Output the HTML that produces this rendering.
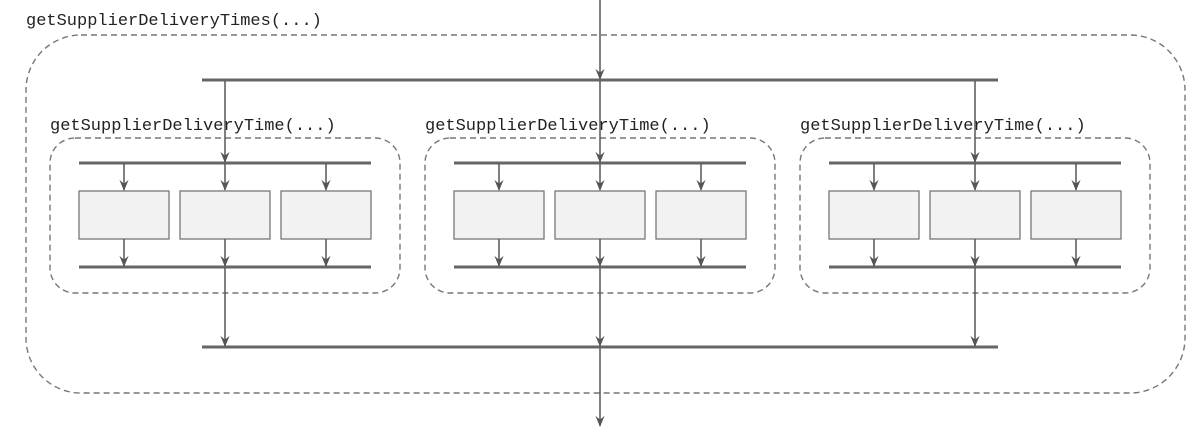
<!DOCTYPE html>
<html><head><style>html,body{margin:0;padding:0;background:#fff}</style></head><body>
<svg width="1200" height="429" viewBox="0 0 1200 429" xmlns="http://www.w3.org/2000/svg">
<defs>
<marker id="a" viewBox="0 0 12 12" refX="11" refY="6" markerWidth="13" markerHeight="11" markerUnits="userSpaceOnUse" orient="auto">
<path d="M0,1 L12,6 L0,11 L4,6 Z" fill="#555"/>
</marker>
<g id="grp">
<rect x="50" y="138" width="350" height="155" rx="25" fill="none" stroke="#777" stroke-width="1.4" stroke-dasharray="6,4"/>
<text x="50" y="130" font-family="Liberation Mono, monospace" font-size="17" fill="#222">getSupplierDeliveryTime(...)</text>
<line x1="79" y1="163" x2="371" y2="163" stroke="#666" stroke-width="3"/>
<line x1="79" y1="267" x2="371" y2="267" stroke="#666" stroke-width="3"/>
<rect x="79" y="191" width="90" height="48" fill="#f2f2f2" stroke="#777" stroke-width="1.3"/>
<rect x="180" y="191" width="90" height="48" fill="#f2f2f2" stroke="#777" stroke-width="1.3"/>
<rect x="281" y="191" width="90" height="48" fill="#f2f2f2" stroke="#777" stroke-width="1.3"/>
<g stroke="#555" stroke-width="1.5" marker-end="url(#a)">
<line x1="124" y1="164" x2="124" y2="190"/>
<line x1="225" y1="164" x2="225" y2="190"/>
<line x1="326" y1="164" x2="326" y2="190"/>
<line x1="124" y1="239" x2="124" y2="266"/>
<line x1="225" y1="239" x2="225" y2="266"/>
<line x1="326" y1="239" x2="326" y2="266"/>
<line x1="225" y1="81" x2="225" y2="162"/>
<line x1="225" y1="268" x2="225" y2="346"/>
</g>
</g>
</defs>
<text x="26" y="25" font-family="Liberation Mono, monospace" font-size="17" fill="#222">getSupplierDeliveryTimes(...)</text>
<rect x="26" y="35" width="1159" height="358" rx="55" fill="none" stroke="#777" stroke-width="1.4" stroke-dasharray="6,4"/>
<line x1="202" y1="80" x2="998" y2="80" stroke="#666" stroke-width="3"/>
<line x1="202" y1="347" x2="998" y2="347" stroke="#666" stroke-width="3"/>
<g stroke="#555" stroke-width="1.5" marker-end="url(#a)">
<line x1="600" y1="0" x2="600" y2="79"/>
<line x1="600" y1="348" x2="600" y2="426"/>
</g>
<use href="#grp"/>
<use href="#grp" x="375"/>
<use href="#grp" x="750"/>
</svg>
</body></html>
